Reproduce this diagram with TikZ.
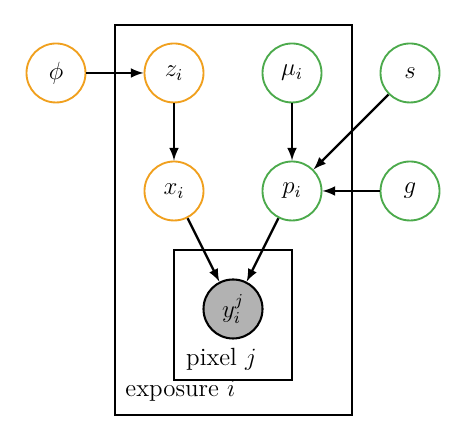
\documentclass[tikz,border=0pt]{standalone}
\usepackage{amsmath,amssymb}
\usetikzlibrary{arrows, calc}

\definecolor{hypcol}{RGB}{240,160,30}
\definecolor{parcol}{RGB}{76,170,76}

\tikzset{
    latent/.style={circle, draw, line width=0.9pt, minimum size=1.0cm, inner sep=0pt, font=\large},
    observed/.style={latent, fill=black!30},
    edge/.style={-latex, line width=1.1pt},
    plate/.style={draw, line width=1pt}
}

\begin{document}
\begin{tikzpicture}
        \useasboundingbox (-0.949, 1.237) rectangle (6.966, -6.271);

        \coordinate (phipos) at (0, 0);
        \coordinate (zpos) at (2, 0);
        \coordinate (mupos) at (4, 0);
        \coordinate (spos) at (6, 0);
        \coordinate (xpos) at (2, -2);
        \coordinate (ppos) at (4, -2);
        \coordinate (gpos) at (6, -2);
        \coordinate (ypos) at (3, -4);

        % plates
        \draw[plate] (1, 0.81) rectangle (5.02, -5.8);
        \draw[plate] (2, -3.0) rectangle (4, -5.2);
        \node[anchor=base west, inner sep=0pt, font=\large] at (2.2, -4.95) {pixel $j$};
        \node[anchor=base west, inner sep=0pt, font=\large] at (1.17, -5.49) {exposure $i$};

        \node[latent, draw=hypcol] (phi) at (phipos) {$\phi$};
        \node[latent, draw=hypcol] (z) at (zpos) {$z_i$};
        \node[latent, draw=hypcol] (x) at (xpos) {$x_i$};
        \node[latent, draw=parcol] (mu) at (mupos) {$\mu_i$};
        \node[latent, draw=parcol] (s) at (spos) {$s$};
        \node[latent, draw=parcol] (p) at (ppos) {$p_i$};
        \node[latent, draw=parcol] (g) at (gpos) {$g$};
        \node[observed, line width=1pt] (y) at (ypos) {$y_i^j$};

        \draw[edge] (phi) -- (z);
        \draw[edge] (z) -- (x);
        \draw[edge] (mu) -- (p);
        \draw[edge] (s) -- (p);
        \draw[edge] (g) -- (p);
        \draw[edge] (x) -- (y);
        \draw[edge] (p) -- (y);
\end{tikzpicture}
\end{document}
